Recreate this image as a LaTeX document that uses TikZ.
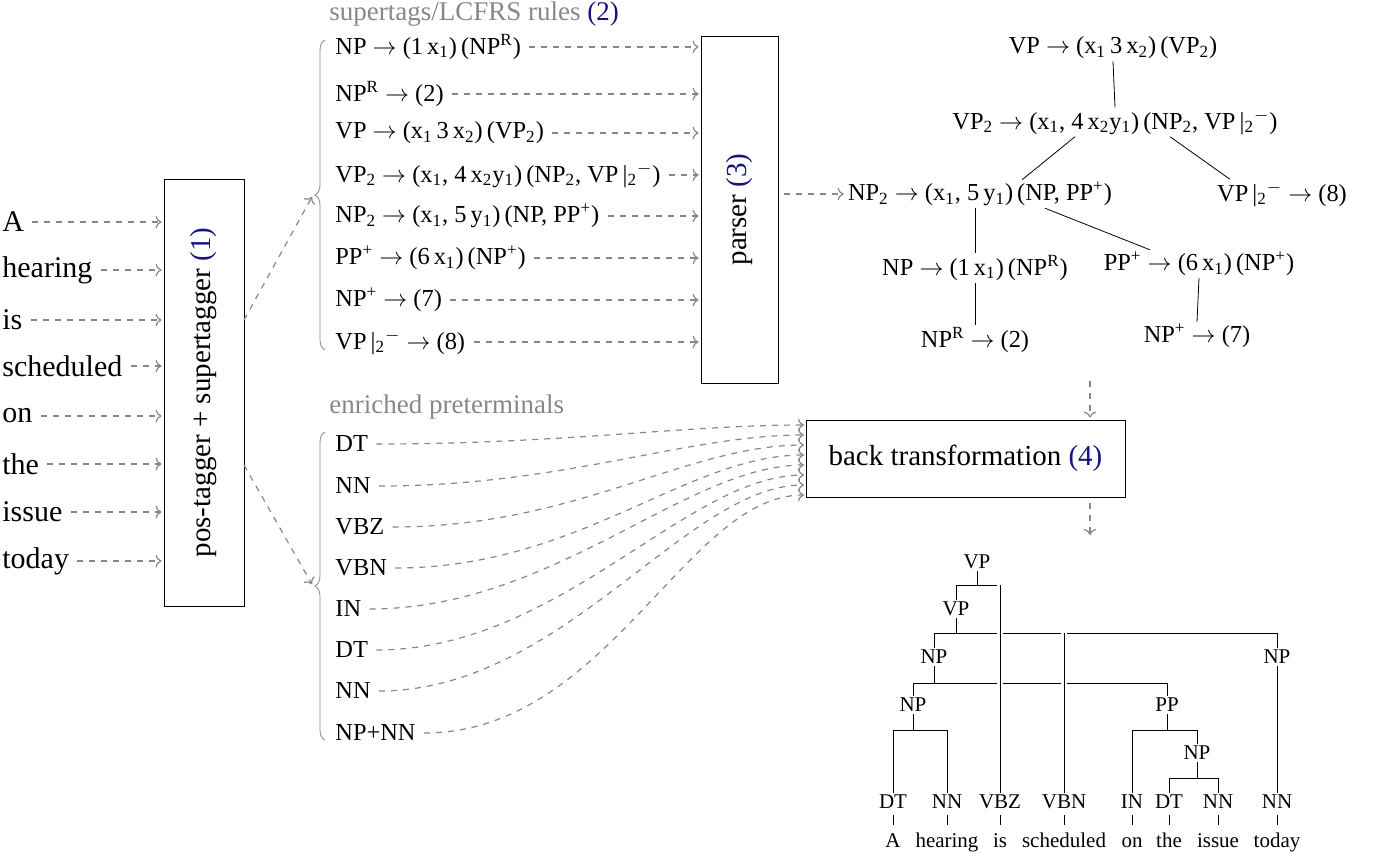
\documentclass[tikz,border=0pt]{standalone}
\usepackage{fontspec}
\setmainfont{Liberation Serif}
\usetikzlibrary{decorations.pathreplacing,arrows.meta}
\definecolor{nb}{RGB}{20,20,130}
\definecolor{lg}{RGB}{135,135,135}
\tikzset{
 da/.style={draw=lg,dashed,-{To[length=3pt]},semithick,shorten <=3pt,shorten >=1pt},
 wd/.style={anchor=west,font=\fontsize{15}{17}\selectfont,inner sep=1pt},
 rl/.style={anchor=west,font=\fontsize{12.2}{14}\selectfont,inner sep=1pt},
 tr/.style={font=\fontsize{12.2}{14}\selectfont,inner sep=1pt},
 tl/.style={font=\fontsize{10.5}{12}\selectfont,inner sep=1pt},
 hd/.style={anchor=west,text=lg,font=\fontsize{13.5}{15}\selectfont,inner sep=1pt},
 bx/.style={draw,thin},
 br/.style={draw=lg,decorate,decoration={brace,amplitude=5pt,mirror}},
 tb/.style={draw,thin},
 tv/.style={draw,thin,preaction={draw=white,line width=3pt}},
}
\newcommand{\tsub}[1]{\textsubscript{#1}}
\newcommand{\tsup}[1]{\textsuperscript{#1}}
\newcommand{\ar}{$\rightarrow$}
\begin{document}
\begin{tikzpicture}[x=0.5pt,y=-0.5pt]
\useasboundingbox (0,0) rectangle (1378,853);
% words
\foreach \w/\y [count=\i] in {A/222,hearing/270,is/320,scheduled/366,on/416,the/464,issue/512,today/561}
  \node[wd] (w\i) at (0,\y) {\w};
\node[bx,minimum width=40pt,minimum height=213.5pt] (pt) at (204,392.5) {};
\node[rotate=90,font=\fontsize{14.5}{16}\selectfont] at (pt) {pos-tagger + supertagger \textcolor{nb}{(1)}};
\foreach \i in {1,...,8} \draw[da] (w\i.east) -- (w\i.east -| pt.west);
% rules
\node[bx,minimum width=38.5pt,minimum height=173.5pt] (ps) at (739.5,209.5) {};
\node[rotate=90,font=\fontsize{14.5}{16}\selectfont] at (ps) {parser \textcolor{nb}{(3)}};
\node[hd] (h1) at (327,14) {supertags/LCFRS rules \textcolor{nb}{(2)}};
\node[rl] (r1) at (333,47) {NP \ar{} (1\,x\tsub{1})\,(NP\tsup{R})};
\node[rl] (r2) at (333,94) {NP\tsup{R} \ar{} (2)};
\node[rl] (r3) at (333,133) {VP \ar{} (x\tsub{1}\,3\,x\tsub{2})\,(VP\tsub{2})};
\node[rl] (r4) at (333,175) {VP\tsub{2} \ar{} (x\tsub{1}, 4\,x\tsub{2}y\tsub{1})\,(NP\tsub{2}, VP\,|\tsub{2}\tsup{$-$})};
\node[rl] (r5) at (333,216) {NP\tsub{2} \ar{} (x\tsub{1}, 5\,y\tsub{1})\,(NP, PP\tsup{+})};
\node[rl] (r6) at (333,258) {PP\tsup{+} \ar{} (6\,x\tsub{1})\,(NP\tsup{+})};
\node[rl] (r7) at (333,300) {NP\tsup{+} \ar{} (7)};
\node[rl] (r8) at (333,342) {VP\,|\tsub{2}\tsup{$-$} \ar{} (8)};
\foreach \i in {1,...,8} \draw[da] (r\i.east) -- (r\i.east -| ps.west);
\draw[br] (325,40) -- (325,350);
\coordinate (b1) at (313,195);
\draw[da,shorten <=0pt] (244,320) -- (b1);
% preterminals
\node[hd] (h2) at (327,407) {enriched preterminals};
\node[bx,minimum width=159.5pt,minimum height=38.5pt] (bt) at (965.5,458.5) {};
\node[font=\fontsize{14.5}{16}\selectfont] at (bt) {back transformation \textcolor{nb}{(4)}};
\foreach \t/\y [count=\i] in {DT/444,NN/486,VBZ/527,VBN/568,IN/609,DT/650,NN/691,NP+NN/733}{
  \node[rl] (p\i) at (333,\y) {\t};
  \draw[da] (p\i.east) .. controls +(190,0) and +(-120,0) .. (806,{415+10*\i});
}
\draw[br] (325,432) -- (325,740);
\coordinate (b2) at (313,586);
\draw[da,shorten <=0pt] (244,465) -- (b2);
% rule tree
\node[tr] (t1) at (1113,48) {VP \ar{} (x\tsub{1}\,3\,x\tsub{2})\,(VP\tsub{2})};
\node[tr] (t2) at (1115,122) {VP\tsub{2} \ar{} (x\tsub{1}, 4\,x\tsub{2}y\tsub{1})\,(NP\tsub{2}, VP\,|\tsub{2}\tsup{$-$})};
\node[tr] (t3) at (980,194) {NP\tsub{2} \ar{} (x\tsub{1}, 5\,y\tsub{1})\,(NP, PP\tsup{+})};
\node[tr] (t4) at (1282,194) {VP\,|\tsub{2}\tsup{$-$} \ar{} (8)};
\node[tr] (t5) at (975,268) {NP \ar{} (1\,x\tsub{1})\,(NP\tsup{R})};
\node[tr] (t6) at (1199,264) {PP\tsup{+} \ar{} (6\,x\tsub{1})\,(NP\tsup{+})};
\node[tr] (t7) at (975,340) {NP\tsup{R} \ar{} (2)};
\node[tr] (t8) at (1197,336) {NP\tsup{+} \ar{} (7)};
\draw (t1.south) -- (t2.north);
\draw (t2.south -| 1075,0) -- (t3.north -| 1022,0);
\draw (t2.south -| 1170,0) -- (t4.north -| 1230,0);
\draw (t3.south -| t5.north) -- (t5.north);
\draw (t3.south -| 1045,0) -- (t6.north -| 1150,0);
\draw (t5.south) -- (t7.north);
\draw (t6.south) -- (t8.north);
\draw[da] (ps.east |- t3) -- (t3.west);
\draw[da] (1090,375) -- (bt.north -| 1090,0);
\draw[da] (bt.south -| 1090,0) -- (1090,537);
% parse tree
\foreach \l/\x [count=\i] in {DT/893,NN/947,VBZ/1000,VBN/1064,IN/1132,DT/1169,NN/1218,NN/1277}{
  \node[tl] (l\i) at (\x,802) {\l};
  \draw (\x,815) -- (\x,825);
}
\foreach \w/\x [count=\i] in {A/893,hearing/947,is/1000,scheduled/1064,on/1132,the/1169,issue/1218,today/1277}
  \node[tl,anchor=base] (u\i) at (\x,847) {\w};
\node[tl] (n1) at (977,562) {VP};
\node[tl] (n2) at (956,609) {VP};
\node[tl] (n3) at (934,657) {NP};
\node[tl] (n4) at (1277,657) {NP};
\node[tl] (n5) at (913,705) {NP};
\node[tl] (n6) at (1167,705) {PP};
\node[tl] (n7) at (1197,753) {NP};
% bars
\draw[tb] (n1.south) -- (977,585); \draw[tb] (956,585) -- (1000,585);
\draw[tb] (n2.south) -- (956,633); \draw[tb] (934,633) -- (1277,633);
\draw[tb] (n3.south) -- (934,683); \draw[tb] (913,683) -- (1167,683);
\draw[tb] (n5.south) -- (913,730); \draw[tb] (893,730) -- (947,730);
\draw[tb] (n6.south) -- (1167,730); \draw[tb] (1132,730) -- (1197,730);
\draw[tb] (n7.south) -- (1197,778); \draw[tb] (1169,778) -- (1218,778);
% child verticals
\draw[tb] (956,585) -- (n2.north);
\draw[tv] (1000,585) -- (l3.north);
\draw[tb] (934,633) -- (n3.north);
\draw[tv] (1064,633) -- (l4.north);
\draw[tb] (1277,633) -- (n4.north);
\draw[tb] (n4.south) -- (l8.north);
\draw[tb] (913,683) -- (n5.north);
\draw[tb] (1167,683) -- (n6.north);
\draw[tb] (893,730) -- (l1.north);
\draw[tb] (947,730) -- (l2.north);
\draw[tb] (1132,730) -- (l5.north);
\draw[tb] (1197,730) -- (n7.north);
\draw[tb] (1169,778) -- (l6.north);
\draw[tb] (1218,778) -- (l7.north);
\end{tikzpicture}
\end{document}
